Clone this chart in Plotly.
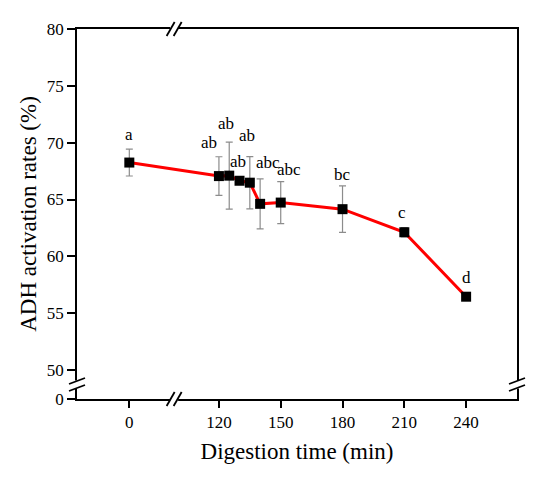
import plotly.graph_objects as go

# Data
time_min = [0, 120, 125, 130, 135, 140, 150, 180, 210, 240]
adh_rate = [68.25, 67.06, 67.1, 66.65, 66.48, 64.62, 64.73, 64.15, 62.12, 56.45]
adh_err = [1.18, 1.7, 2.95, 0.3, 2.3, 2.2, 1.85, 2.05, 0.4, 0.2]
sig_labels = ['a', 'ab', 'ab', 'ab', 'ab', 'abc', 'abc', 'bc', 'c', 'd']

x_tick_labels = [0, 120, 150, 180, 210, 240]
y_tick_labels = [50, 55, 60, 65, 70, 75, 80]

# broken x axis: 0..120 gap is squeezed
GAP_START = 120
GAP_SHIFT = 76.5
Y_BREAK_BOTTOM = 47.45  # where "0" sits under the y break


def xpos(t):
    return t if t < GAP_START else t - GAP_SHIFT


xs = [xpos(t) for t in time_min]
x_break = (xpos(0) + xpos(120)) / 2
y_break = (Y_BREAK_BOTTOM + 50) / 2

fig = go.Figure()
fig.add_trace(go.Scatter(
    x=xs, y=adh_rate,
    mode='lines+markers',
    line=dict(color='#ff0000', width=3),
    marker=dict(symbol='square', size=10, color='black'),
    error_y=dict(type='data', array=adh_err, color='#8c8c8c', thickness=1.2, width=3.5),
    showlegend=False,
))

# significance letters
lbl_dx = [0, -10, -3, -2, -3, 8, 8, 0, -2, 0]
lbl_dy = [15, 14, 19, 16, 21, 16, 12, 11, 15, 17]
for x, v, e, s, dx, dy in zip(xs, adh_rate, adh_err, sig_labels, lbl_dx, lbl_dy):
    fig.add_annotation(x=x, y=v + e, text=s, showarrow=False,
                       xshift=dx, yshift=dy,
                       font=dict(family='Liberation Serif', size=17, color='black'))

# axis break marks
shapes = []
for ya in [0, 1]:
    shapes.append(dict(type='line', xref='x', xsizemode='pixel', xanchor=x_break,
                       x0=-4, x1=4, yref='paper', ysizemode='pixel', yanchor=ya,
                       y0=0, y1=0, line=dict(color='white', width=4), layer='above'))
    for off in [-3.5, 3.5]:
        shapes.append(dict(type='line', xref='x', xsizemode='pixel', xanchor=x_break,
                           x0=off - 4, x1=off + 4, yref='paper', ysizemode='pixel',
                           yanchor=ya, y0=-7, y1=7,
                           line=dict(color='black', width=1.8), layer='above'))
for xa in [0, 1]:
    shapes.append(dict(type='line', xref='paper', xsizemode='pixel', xanchor=xa,
                       x0=0, x1=0, yref='y', ysizemode='pixel', yanchor=y_break,
                       y0=-4, y1=4, line=dict(color='white', width=4), layer='above'))
    for off in [-3.5, 3.5]:
        shapes.append(dict(type='line', xref='paper', xsizemode='pixel', xanchor=xa,
                           x0=-8, x1=8, yref='y', ysizemode='pixel', yanchor=y_break,
                           y0=off - 3, y1=off + 3,
                           line=dict(color='black', width=1.8), layer='above'))

fig.update_layout(
    width=550, height=479,
    margin=dict(l=69, r=41, t=18, b=88),
    plot_bgcolor='white', paper_bgcolor='white',
    font=dict(family='Liberation Serif', size=17, color='black'),
    shapes=shapes,
    xaxis=dict(
        range=[-25.4, 188.2],
        tickvals=[xpos(t) for t in x_tick_labels],
        ticktext=[str(t) for t in x_tick_labels],
        ticks='outside', ticklen=7, tickwidth=1.8, tickcolor='black',
        showline=True, linecolor='black', linewidth=1.8, mirror=True,
        showgrid=False, zeroline=False,
        title=dict(text='Digestion time (min)', font=dict(size=23), standoff=12),
    ),
    yaxis=dict(
        range=[Y_BREAK_BOTTOM, 80],
        tickvals=[Y_BREAK_BOTTOM] + y_tick_labels,
        ticktext=['0'] + [str(v) for v in y_tick_labels],
        ticks='outside', ticklen=8, tickwidth=1.8, tickcolor='black',
        showline=True, linecolor='black', linewidth=1.8, mirror=True,
        showgrid=False, zeroline=False,
        title=dict(text='ADH activation rates (%)', font=dict(size=23), standoff=4),
    ),
)

fig.write_html("out.html")
